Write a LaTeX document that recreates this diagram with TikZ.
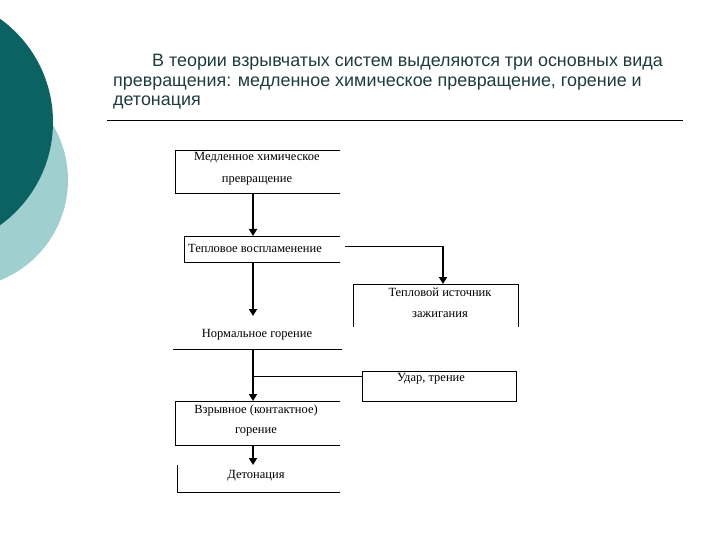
\documentclass[tikz,border=0pt]{standalone}
\usepackage{fontspec}
\setmainfont{Liberation Serif}
\newfontfamily\titlefont{Liberation Sans}
\usetikzlibrary{arrows.meta,calc}
\definecolor{darkteal}{HTML}{0B6262}
\definecolor{lightteal}{HTML}{9FCFCF}
\definecolor{titlecol}{HTML}{1E3C3C}
\begin{document}
\begin{tikzpicture}[x=1pt,y=-1pt,
  edge/.style={draw=black,line width=0.9pt},
  arr/.style={line width=2pt,-{Triangle[width=8pt,length=7pt]}},
  lbl/.style={font=\fontsize{12.5}{14}\selectfont,inner sep=0pt},
  ttl/.style={font=\titlefont\fontsize{17.9}{21}\selectfont,text=titlecol,anchor=base west,inner sep=0pt},
  boxarea/.style={inner sep=0pt,outer sep=0pt}]
\useasboundingbox (0,0) rectangle (720,540);
\begin{scope}
\clip (0,0) rectangle (720,540);
\fill[lightteal] (-40,180) circle[radius=108pt];
\fill[darkteal] (-74,122) circle[radius=127pt];
\end{scope}

% title
\node[ttl] (t1) at (152,67) {В теории взрывчатых систем выделяются три основных вида};
\node[ttl] (t2) at (113,86.5) {превращения: медленное химическое превращение, горение и};
\node[ttl] (t3) at (113,106) {детонация};
\coordinate (rl) at (107,120);
\coordinate (rr) at (683,120);
\draw[edge] (rl) -- (rr);

% box areas
\node[boxarea,minimum width=165pt,minimum height=43pt] (b1) at (257.5,171.5) {};
\node[boxarea,minimum width=156pt,minimum height=26pt] (b2) at (262,249) {};
\node[boxarea,minimum width=165pt,minimum height=43pt] (b3) at (435.5,305.5) {};
\node[boxarea,minimum width=169pt,minimum height=29pt] (b4) at (257.5,334.5) {};
\node[boxarea,minimum width=154pt,minimum height=30pt] (b5) at (439,386) {};
\node[boxarea,minimum width=165pt,minimum height=44pt] (b6) at (257.5,423) {};
\node[boxarea,minimum width=163pt,minimum height=27pt] (b7) at (258.5,478.5) {};

% box borders
\draw[edge] (b1.north east) -- (b1.north west) -- (b1.south west) -- (b1.south east);
\draw[edge] (b2.north east) -- (b2.north west) -- (b2.south west) -- (b2.south east);
\draw[edge] (b3.south west) -- (b3.north west) -- (b3.north east) -- (b3.south east);
\draw[edge] (b4.south west) -- (b4.south east);
\draw[edge] (b5.north west) rectangle (b5.south east);
\draw[edge] (b6.north east) -- (b6.north west) -- (b6.south west) -- (b6.south east);
\draw[edge] (b7.north west) -- (b7.south west) -- (b7.south east);

% labels
\node[lbl] (l1a) at (257,158) {Медленное химическое};
\node[lbl] (l1b) at (257,181) {превращение};
\node[lbl] (l2) at (255,248) {Тепловое воспламенение};
\node[lbl] (l3a) at (440,292) {Тепловой источник};
\node[lbl] (l3b) at (440,315) {зажигания};
\node[lbl] (l4) at (257,335) {Нормальное горение};
\node[lbl] (l5) at (431,379) {Удар, трение};
\node[lbl] (l6a) at (256,410) {Взрывное (контактное)};
\node[lbl] (l6b) at (256,432) {горение};
\node[lbl] (l7) at (256,476) {Детонация};

% connectors
\coordinate (ax) at (253,0);
\coordinate (bx) at (443,0);
\coordinate (tip4) at (253,316);
\coordinate (c2) at (345,246);
\coordinate (j5) at (253,376);
\draw[arr] (b1.south -| ax) -- (b2.north -| ax);
\draw[arr] (b2.south -| ax) -- (tip4);
\draw[edge] (c2) -- (c2 -| bx);
\draw[arr] (c2 -| bx) -- (b3.north -| bx);
\draw[arr] (b4.south -| ax) -- (b6.north -| ax);
\draw[edge] (j5) -- (j5 -| b5.west);
\draw[arr] (b6.south -| ax) -- (b7.north -| ax);
\end{tikzpicture}
\end{document}
